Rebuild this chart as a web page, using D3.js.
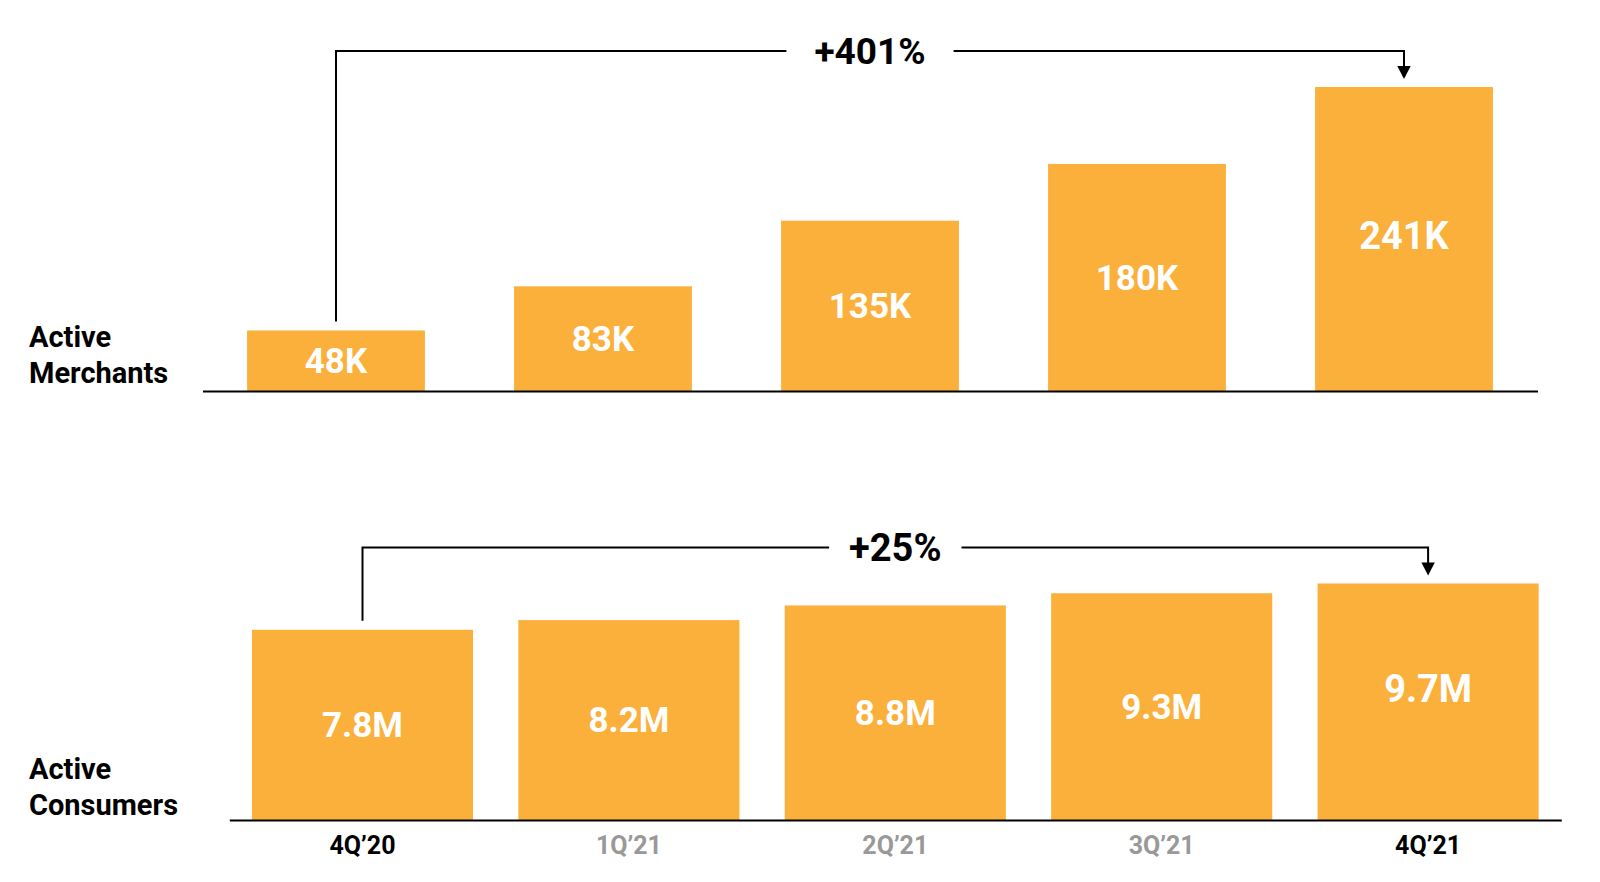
<!DOCTYPE html>
<html>
<head>
<meta charset="utf-8">
<script src="https://cdn.jsdelivr.net/npm/d3@7"></script>
<style>
  body { margin: 0; background: #fff; }
  text { font-family: Roboto, "Noto Sans", sans-serif; font-weight: 700; }
</style>
</head>
<body>
<div id="wrapper"></div>
<script>
const quarters = ["4Q’20", "1Q’21", "2Q’21", "3Q’21", "4Q’21"]
const highlighted = ["4Q’20", "4Q’21"]
const merchants = [48, 83, 135, 180, 241]
const consumers = [7.8, 8.2, 8.8, 9.3, 9.7]
const merchantsGrowth = "+401%"
const consumersGrowth = "+25%"

const barColor = "#fbb03b"

const width = 1600
const height = 882
const svg = d3.select("#wrapper").append("svg").attr("width", width).attr("height", height)

function drawPanel(opts) {
    const x = d3.scaleBand().domain(quarters)
        .range(opts.xRange)
        .paddingInner(opts.pad)
        .paddingOuter(opts.pad / 2)
    const y = d3.scaleLinear().domain([0, d3.max(opts.values)]).range(opts.yRange)
    const g = svg.append("g")
    const data = opts.values.map((v, i) => ({ q: quarters[i], v: v, i: i }))

    g.selectAll("rect").data(data).enter()
        .append("rect")
        .attr("x", d => x(d.q))
        .attr("y", d => y(d.v))
        .attr("width", x.bandwidth())
        .attr("height", d => y(0) - y(d.v))
        .attr("fill", barColor)

    // value labels, last one a bit bigger and lifted
    const isLast = d => d.i == data.length - 1
    const size = d => isLast(d) ? 38 : 35
    g.selectAll(".val").data(data).enter()
        .append("text")
        .attr("class", "val")
        .attr("text-anchor", "middle")
        .attr("fill", "#fff")
        .style("font-size", d => size(d) + "px")
        .attr("x", d => x(d.q) + x.bandwidth() / 2)
        .attr("y", d => (y(d.v) + y(0)) / 2 + size(d) * 0.355 - (isLast(d) ? opts.lastLift : 0))
        .text(d => opts.fmt(d.v))

    // baseline / axis
    const axis = d3.axisBottom(x).tickSize(0).tickSizeOuter(0).tickPadding(opts.tickPad || 0)
    const ax = g.append("g").attr("transform", `translate(0,${y(0)})`).call(axis)
    ax.select(".domain").attr("stroke", "#000").attr("stroke-width", 2)
    if (opts.showTicks) {
        ax.selectAll(".tick text")
            .style("font-size", "25px")
            .style("font-family", "Roboto, sans-serif")
            .style("font-weight", 700)
            .attr("fill", d => highlighted.includes(d) ? "#000" : "#999")
    } else {
        ax.selectAll(".tick text").remove()
    }

    // row title
    const title = g.append("text").attr("x", 29).attr("fill", "#000").style("font-size", "29px")
    opts.title.forEach((t, i) => {
        title.append("tspan").attr("x", 29).attr("y", opts.titleY + i * 36).text(t)
    })

    // growth bracket
    const first = data[0], last = data[data.length - 1]
    const x0 = x(first.q) + x.bandwidth() / 2
    const x1 = x(last.q) + x.bandwidth() / 2
    const level = y(d3.max(opts.values)) - 36
    const mid = x(quarters[2]) + x.bandwidth() / 2

    const label = g.append("text")
        .attr("text-anchor", "middle")
        .attr("x", mid)
        .attr("y", level + opts.growthSize * 0.345)
        .attr("fill", "#000")
        .style("font-size", opts.growthSize + "px")
        .text(opts.growth)
    const half = label.node().getComputedTextLength() / 2 + opts.gap

    const tipY = y(last.v) - 8
    const head = 13
    g.append("path")
        .attr("d", `M${x0},${y(first.v) - 9}V${level}H${mid - half}M${mid + half},${level}H${x1}V${tipY - head + 1}`)
        .attr("fill", "none")
        .attr("stroke", "#000")
        .attr("stroke-width", 2)
    g.append("path")
        .attr("d", `M${x1 - 6.7},${tipY - head}L${x1 + 6.7},${tipY - head}L${x1},${tipY}Z`)
        .attr("fill", "#000")
}

drawPanel({
    values: merchants,
    fmt: d => d + "K",
    xRange: [202.5, 1537.5],
    pad: 0.334,
    yRange: [391, 87],
    title: ["Active", "Merchants"],
    titleY: 347,
    growth: merchantsGrowth,
    growthSize: 37,
    gap: 28,
    lastLift: 3,
    showTicks: false
})

drawPanel({
    values: consumers,
    fmt: d => d.toFixed(1) + "M",
    xRange: [229.3, 1561.3],
    pad: 0.17,
    yRange: [820, 583.5],
    title: ["Active", "Consumers"],
    titleY: 779,
    growth: consumersGrowth,
    growthSize: 38,
    gap: 20,
    lastLift: 13,
    showTicks: true,
    tickPad: 16
})
</script>
</body>
</html>
